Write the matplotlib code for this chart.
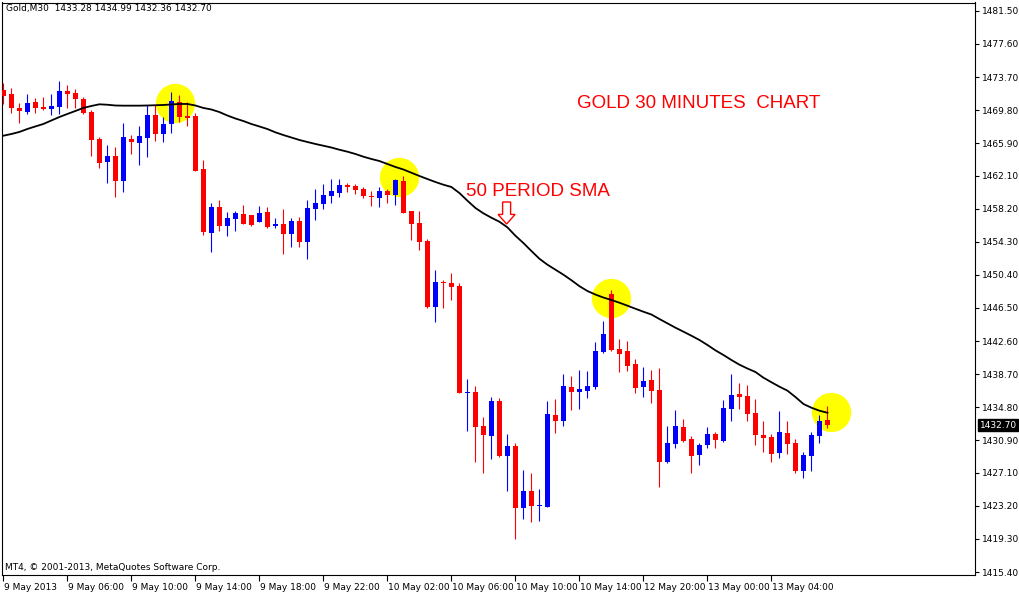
import numpy as np
import matplotlib.pyplot as plt
from matplotlib.patches import Polygon
import matplotlib.transforms as mtransforms

# Gold M30 candles (bar 0 = 9 May 02:00)
opens = [1472.17, 1471.70, 1470.06, 1469.62, 1470.76, 1470.17, 1469.97, 1470.21, 1472.06, 1471.82,
         1471.11, 1469.62, 1466.40, 1463.73, 1464.40, 1461.49, 1466.40, 1465.97, 1466.56, 1469.23,
         1467.03, 1468.13, 1470.76, 1469.11, 1469.11, 1462.87, 1455.37, 1458.39, 1456.19, 1457.02,
         1457.60, 1457.45, 1456.66, 1457.80, 1456.19, 1456.39, 1455.25, 1456.74, 1454.31, 1458.19,
         1458.78, 1459.69, 1460.08, 1460.99, 1460.87, 1460.51, 1459.69, 1459.49, 1460.28, 1459.81,
         1461.46, 1457.92, 1456.49, 1454.39, 1446.65, 1449.56, 1449.41, 1449.09, 1436.45, 1436.64,
         1432.60, 1431.46, 1435.54, 1429.10, 1430.24, 1422.97, 1424.94, 1423.12, 1423.09, 1433.89,
         1433.22, 1437.17, 1436.64, 1436.76, 1437.17, 1441.35, 1448.18, 1441.67, 1441.47, 1439.94,
         1437.23, 1438.02, 1436.84, 1428.39, 1430.51, 1432.48, 1431.07, 1429.22, 1430.40, 1431.66,
         1430.83, 1434.64, 1436.40, 1436.13, 1434.16, 1431.54, 1431.30, 1429.45, 1431.77, 1430.60,
         1427.33, 1429.10, 1431.46, 1433.28]
highs = [1472.97, 1472.38, 1470.61, 1471.70, 1471.27, 1471.31, 1471.70, 1473.23, 1472.80, 1472.29,
         1471.31, 1469.82, 1466.67, 1465.70, 1465.43, 1468.32, 1466.84, 1467.93, 1470.41, 1470.41,
         1469.03, 1471.94, 1471.59, 1470.80, 1469.47, 1463.93, 1458.83, 1459.22, 1457.80, 1457.92,
         1458.63, 1457.45, 1458.51, 1458.39, 1457.10, 1458.16, 1457.10, 1457.22, 1459.22, 1460.51,
         1461.10, 1461.69, 1461.69, 1461.22, 1461.10, 1460.79, 1460.28, 1460.79, 1460.51, 1461.69,
         1462.05, 1457.92, 1457.92, 1454.59, 1450.97, 1449.80, 1450.58, 1449.41, 1438.13, 1437.31,
         1433.69, 1436.05, 1435.93, 1431.66, 1430.56, 1427.41, 1427.10, 1425.18, 1435.54, 1435.78,
         1438.72, 1438.49, 1439.19, 1439.08, 1442.49, 1445.00, 1448.62, 1442.85, 1442.61, 1440.49,
         1439.55, 1439.19, 1439.43, 1432.60, 1434.48, 1433.42, 1431.44, 1430.62, 1432.48, 1431.89,
         1435.66, 1438.72, 1437.66, 1437.43, 1435.78, 1433.19, 1431.66, 1434.36, 1433.19, 1431.10,
         1429.54, 1431.89, 1433.89, 1434.99]
lows = [1470.49, 1469.50, 1468.25, 1469.35, 1469.43, 1469.82, 1469.27, 1469.38, 1470.02, 1470.09,
        1469.35, 1464.40, 1463.02, 1461.19, 1459.54, 1460.20, 1464.67, 1463.38, 1464.32, 1466.20,
        1466.09, 1467.15, 1468.44, 1467.93, 1462.60, 1455.10, 1453.09, 1455.60, 1454.98, 1455.60,
        1456.43, 1456.19, 1456.66, 1455.96, 1455.96, 1452.89, 1453.68, 1453.72, 1452.30, 1456.90,
        1458.19, 1458.87, 1459.61, 1460.20, 1459.96, 1459.42, 1458.55, 1458.43, 1458.83, 1458.67,
        1457.65, 1454.45, 1453.33, 1446.53, 1444.88, 1446.46, 1447.44, 1436.45, 1432.04, 1428.39,
        1427.10, 1428.75, 1428.95, 1424.98, 1419.32, 1421.61, 1421.32, 1421.44, 1423.09, 1431.83,
        1432.63, 1434.48, 1434.60, 1435.93, 1437.01, 1441.16, 1441.47, 1438.99, 1439.11, 1436.52,
        1436.05, 1435.34, 1425.45, 1428.27, 1430.04, 1430.69, 1427.10, 1428.04, 1430.04, 1430.04,
        1430.71, 1433.22, 1434.64, 1433.22, 1430.36, 1429.54, 1428.39, 1428.86, 1429.33, 1427.10,
        1426.51, 1427.33, 1430.63, 1432.36]
closes = [1471.50, 1470.09, 1469.74, 1470.64, 1470.09, 1469.94, 1470.29, 1472.06, 1471.74, 1471.15,
          1469.50, 1466.32, 1463.61, 1464.40, 1461.49, 1466.64, 1466.09, 1466.76, 1469.23, 1467.03,
          1468.17, 1470.88, 1469.03, 1468.91, 1462.67, 1455.48, 1458.39, 1456.19, 1457.10, 1457.69,
          1456.43, 1456.31, 1457.69, 1456.07, 1456.43, 1455.25, 1456.74, 1454.31, 1458.28, 1458.87,
          1459.81, 1460.28, 1460.99, 1460.79, 1460.40, 1459.72, 1459.61, 1460.28, 1459.81, 1461.57,
          1457.72, 1456.45, 1454.31, 1446.65, 1449.56, 1449.41, 1449.01, 1436.45, 1436.52, 1432.52,
          1431.54, 1435.54, 1429.10, 1430.24, 1422.97, 1424.94, 1423.12, 1423.29, 1434.01, 1433.22,
          1437.31, 1436.64, 1436.96, 1437.31, 1441.43, 1443.47, 1441.59, 1441.11, 1439.70, 1437.11,
          1437.90, 1436.76, 1428.39, 1430.60, 1432.60, 1430.87, 1429.10, 1430.36, 1431.66, 1430.98,
          1434.72, 1436.25, 1436.05, 1434.05, 1431.57, 1431.22, 1429.33, 1431.89, 1430.51, 1427.33,
          1429.18, 1431.54, 1433.19, 1432.70]

# 50 period SMA as drawn on the chart
sma50 = [1466.79, 1466.99, 1467.23, 1467.58, 1467.88, 1468.17, 1468.58, 1468.99, 1469.35, 1469.70,
         1470.06, 1470.29, 1470.49, 1470.44, 1470.35, 1470.33, 1470.33, 1470.33, 1470.35, 1470.38,
         1470.41, 1470.47, 1470.53, 1470.53, 1470.35, 1470.06, 1469.88, 1469.58, 1469.17, 1468.82,
         1468.52, 1468.17, 1467.88, 1467.58, 1467.19, 1466.87, 1466.58, 1466.29, 1466.05, 1465.82,
         1465.61, 1465.40, 1465.14, 1464.91, 1464.64, 1464.32, 1464.05, 1463.81, 1463.46, 1463.11,
         1462.81, 1462.43, 1462.05, 1461.69, 1461.34, 1461.02, 1460.75, 1460.04, 1459.14, 1458.28,
         1457.65, 1457.13, 1456.66, 1456.00, 1455.01, 1454.15, 1453.21, 1452.30, 1451.60, 1451.01,
         1450.42, 1449.77, 1449.07, 1448.50, 1448.08, 1447.73, 1447.44, 1447.12, 1446.77, 1446.41,
         1446.06, 1445.73, 1445.20, 1444.69, 1444.18, 1443.71, 1443.23, 1442.73, 1442.14, 1441.51,
         1440.96, 1440.37, 1439.82, 1439.37, 1438.96, 1438.29, 1437.75, 1437.23, 1436.76, 1436.01,
         1435.19, 1434.75, 1434.40, 1434.16]

time_tick_bars = [0, 8, 16, 24, 32, 40, 48, 56, 64, 72, 80, 88, 96]
time_tick_labels = ["9 May 2013", "9 May 06:00", "9 May 10:00", "9 May 14:00", "9 May 18:00",
                    "9 May 22:00", "10 May 02:00", "10 May 06:00", "10 May 10:00", "10 May 14:00",
                    "12 May 20:00", "13 May 00:00", "13 May 04:00"]
price_ticks = [1481.50, 1477.60, 1473.70, 1469.80, 1465.90, 1462.10, 1458.20, 1454.30, 1450.40,
               1446.50, 1442.60, 1438.70, 1434.80, 1430.90, 1427.10, 1423.20, 1419.30, 1415.40]

# yellow highlight circles (bar position, price)
circle_bars = [21.5, 49.5, 75.9, 103.4]
circle_prices = [1470.61, 1461.87, 1447.67, 1434.28]

last_price = 1432.70

fig = plt.figure(figsize=(10.2, 5.93), dpi=100)
ax = fig.add_axes([2.5 / 1020, 18 / 593, 973 / 1020, 572.5 / 593])

x = np.arange(len(opens))
o = np.array(opens)
h = np.array(highs)
l = np.array(lows)
c = np.array(closes)
colors = np.where(c > o, '#0000FF', '#FF0000')

ax.scatter(circle_bars, circle_prices, s=800, color='#FFFF00', linewidths=0, zorder=1)

# wicks then bodies
ax.vlines(x, l, h, colors=colors, linewidth=0.8, zorder=2)
body_low = np.minimum(o, c)
body_h = np.maximum(np.abs(c - o), 0.12)
ax.bar(x, body_h, bottom=body_low, width=0.62, color=colors, linewidth=0, zorder=3)

ax.plot(x, sma50, color='black', linewidth=1.3, zorder=4)

ax.set_xlim(-0.1, 121.5)
ax.set_ylim(1415.05, 1482.48)

# axes like MT4: prices on the right
ax.yaxis.tick_right()
ax.set_yticks(price_ticks)
ax.set_yticklabels(["%.2f" % p for p in price_ticks])
ax.tick_params(axis='y', direction='out', length=3, width=0.8, pad=2, labelsize=6.5, colors='black')
ax.set_xticks(time_tick_bars)
ax.set_xticklabels(time_tick_labels)
ax.tick_params(axis='x', direction='out', length=4, width=0.8, pad=2, labelsize=6.5)
shift = mtransforms.ScaledTranslation(0.5 / 72, 0, fig.dpi_scale_trans)
for lab in ax.get_xticklabels():
    lab.set_horizontalalignment('left')
    lab.set_transform(lab.get_transform() + shift)
for sp in ax.spines.values():
    sp.set_linewidth(0.8)
    sp.set_color('black')

# current price tag
ax.annotate("%.2f" % last_price, xy=(1, last_price), xycoords=('axes fraction', 'data'),
            xytext=(4, 0), textcoords='offset pixels', ha='left', va='center',
            fontsize=6.5, color='white', annotation_clip=False,
            bbox=dict(boxstyle='square,pad=0.2', fc='black', ec='black'))

# header and footer text
ax.text(0.004, 0.990, "Gold,M30  1433.28 1434.99 1432.36 1432.70", transform=ax.transAxes,
        fontsize=6.5, va='center', ha='left')
ax.text(0.003, 0.013, "MT4, \u00a9 2001-2013, MetaQuotes Software Corp.", transform=ax.transAxes,
        fontsize=6.5, va='center', ha='left')

# red annotations
ax.text(71.7, 1470.09, "GOLD 30 MINUTES  CHART", color='#FF0000', fontsize=13.5,
        family='Liberation Sans', va='baseline', ha='left')
ax.text(57.8, 1459.69, "50 PERIOD SMA", color='#FF0000', fontsize=13.5,
        family='Liberation Sans', va='baseline', ha='left')

# hollow down arrow under the SMA label (shape in pixels, tip anchored at data point)
arrow_tip = (62.9, 1456.39)
arrow_shape = [(-4, 22), (4, 22), (4, 9.6), (8.5, 9.6), (0, 0), (-8.5, 9.6), (-4, 9.6)]
arrow_trans = mtransforms.Affine2D() + mtransforms.ScaledTranslation(arrow_tip[0], arrow_tip[1], ax.transData)
ax.add_patch(Polygon(arrow_shape, closed=True, fill=False, edgecolor='#FF0000',
                     linewidth=1.0, transform=arrow_trans, zorder=5))

fig.savefig('out.png', dpi=100, facecolor='white')
